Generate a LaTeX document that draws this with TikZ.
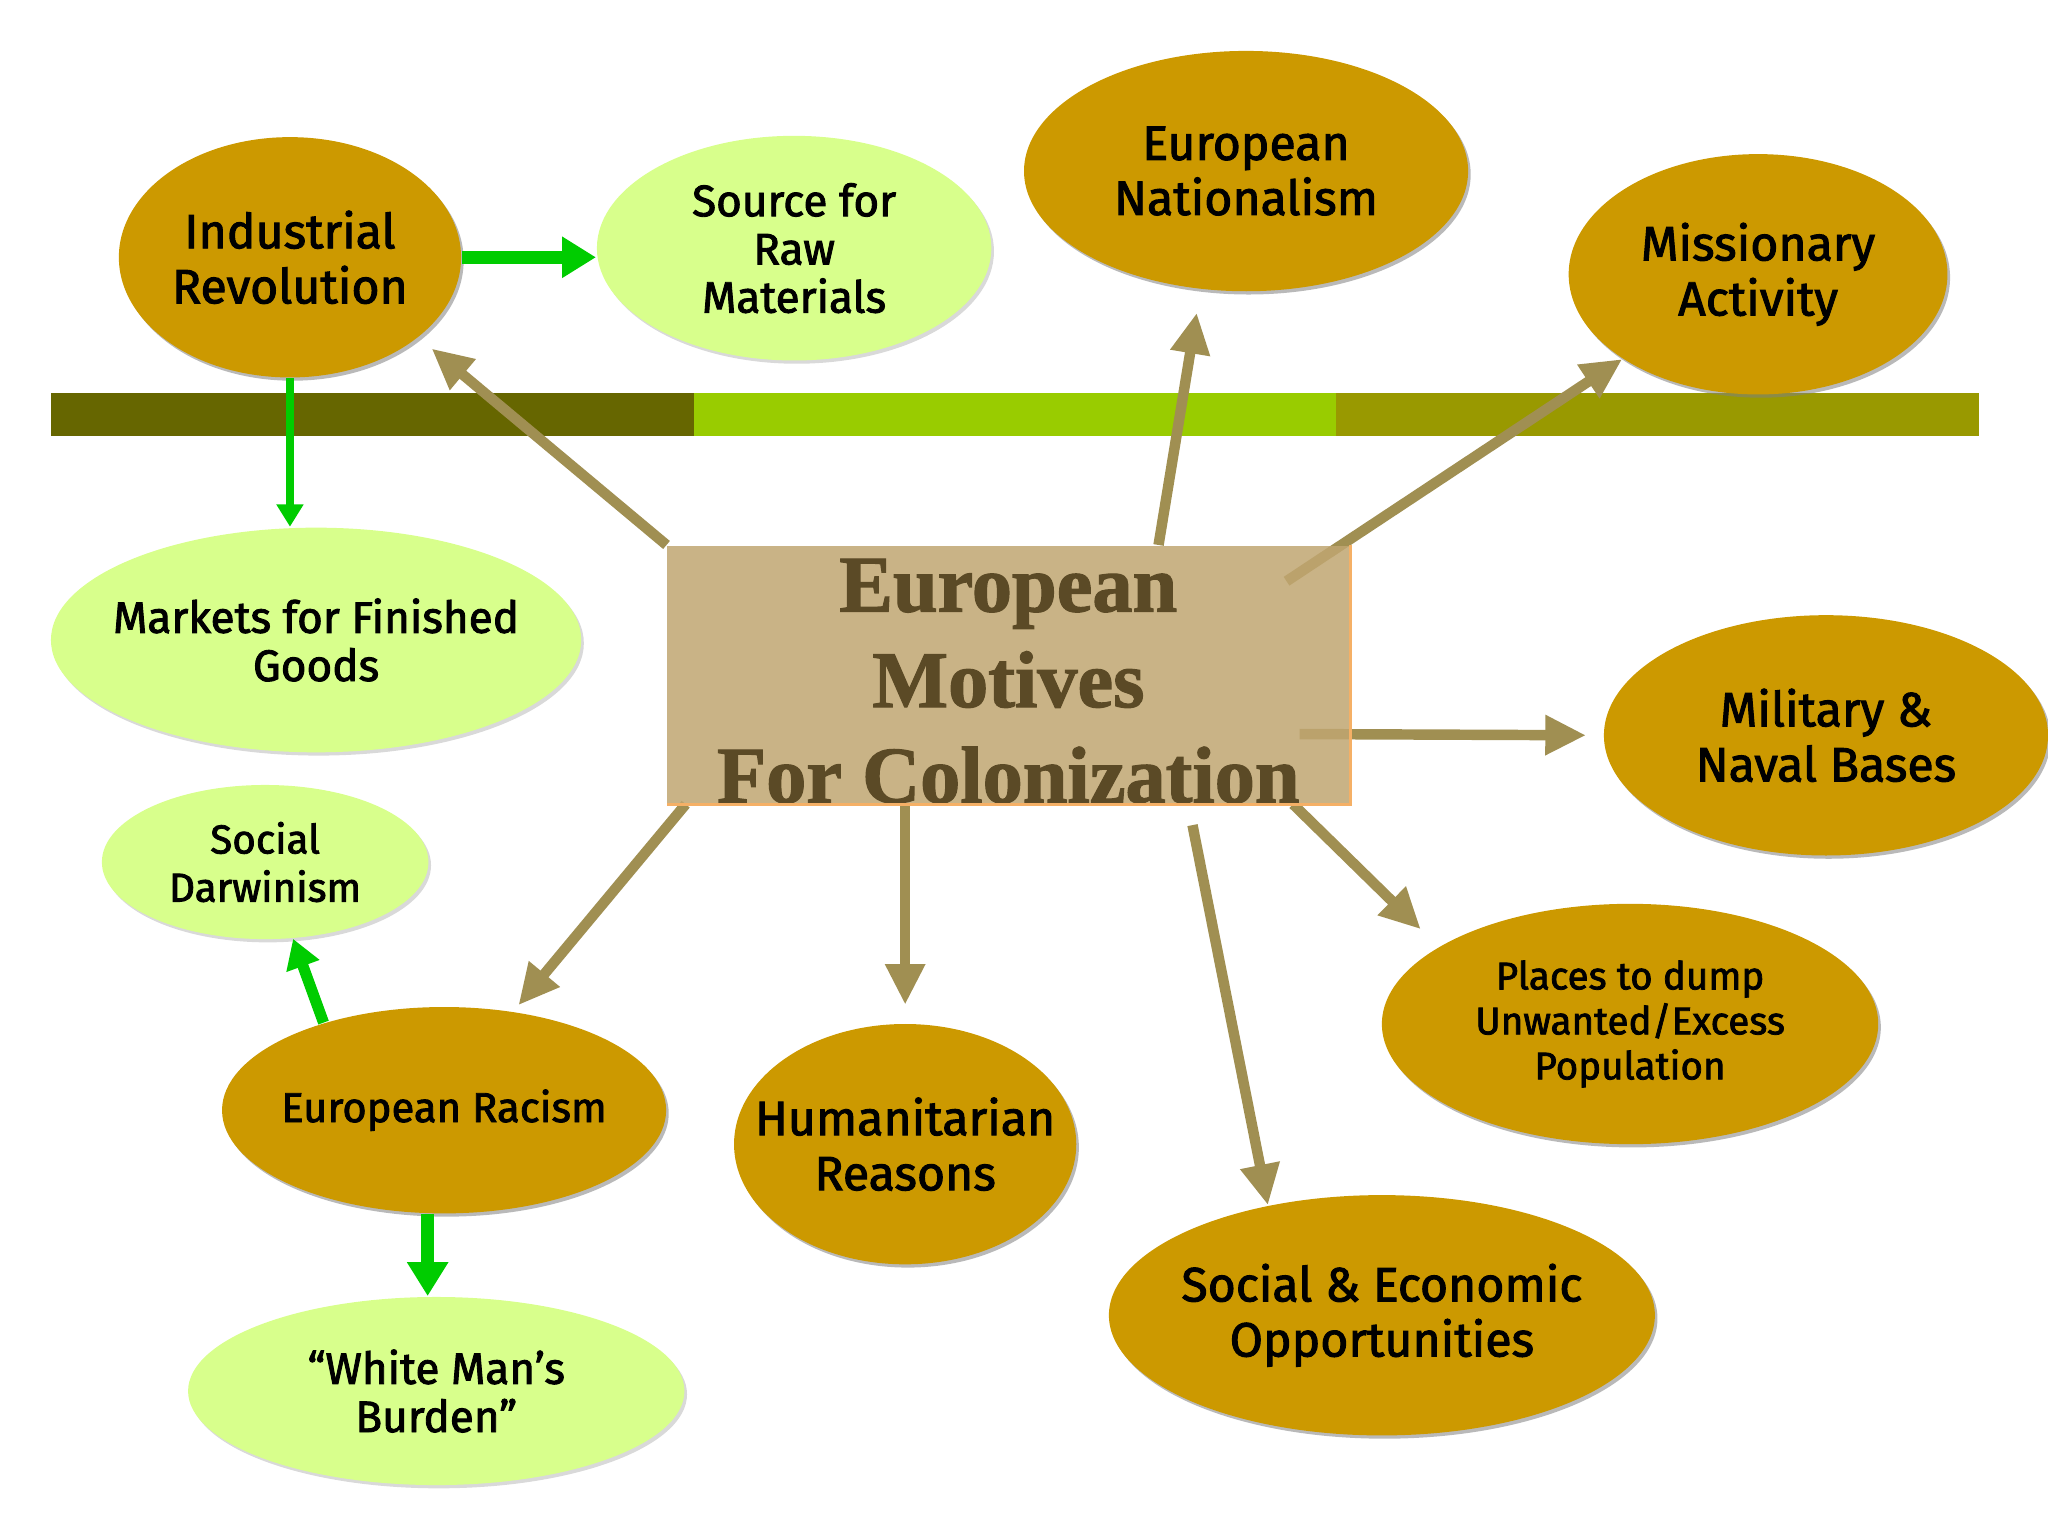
\documentclass[tikz,border=0pt]{standalone}
\usepackage{fontspec}
\setmainfont{Fira Sans}[FakeBold=2]
\newfontfamily\titlefont{Liberation Serif}[FakeBold=1.5]
\usetikzlibrary{shapes.geometric,arrows.meta,backgrounds,shadows}
\definecolor{ovalgold}{HTML}{CC9900}
\definecolor{ovallime}{HTML}{D8FF8C}
\definecolor{khaki}{HTML}{A08F52}
\definecolor{arrowgreen}{HTML}{00CC00}
\definecolor{titlebrown}{HTML}{5B4A26}
\definecolor{boxtan}{HTML}{C0A671}
\definecolor{boxedge}{HTML}{F5B066}
\definecolor{bardark}{HTML}{666600}
\definecolor{barlight}{HTML}{99CC00}
\definecolor{barmid}{HTML}{999900}
\tikzset{node distance=2cm, auto,
  motive/.style={ellipse, fill=ovalgold, inner xsep=-0.4cm, inner ysep=-0.3cm, align=center,
    drop shadow={shadow xshift=0.02cm, shadow yshift=-0.025cm, opacity=0.55}},
  effect/.style={ellipse, fill=ovallime, inner xsep=-0.4cm, inner ysep=-0.3cm, align=center,
    drop shadow={shadow xshift=0.02cm, shadow yshift=-0.025cm, opacity=0.3}},
  bigtext/.style={font=\fontsize{10.5}{12}\selectfont},
  midtext/.style={font=\fontsize{9.6}{10.5}\selectfont},
  smalltext/.style={font=\fontsize{8.4}{9.8}\selectfont},
  push/.style={draw=khaki, line width=0.08cm, -{Triangle[width=0pt 3.6, length=0pt 3.9]}},
  leads/.style={draw=arrowgreen, line width=#1, -{Triangle[width=0pt 3, length=0pt 2.6]}}
}
\begin{document}
\begin{tikzpicture}
  \useasboundingbox (0,0) rectangle (15.68,-11.76);

  % the bar across the slide
  \begin{scope}[on background layer]
    \foreach \c [count=\i from 0] in {bardark,barlight,barmid}
      \fill[\c] (0.39+4.92*\i,-3.01) rectangle ++(4.92,-0.33);
  \end{scope}

  \node (box) at (7.72,-5.165) [fill=boxtan, fill opacity=0.85, text opacity=1,
    minimum width=5.22cm, minimum height=1.95cm, inner sep=0pt, align=center,
    text=titlebrown, font=\titlefont\bfseries\fontsize{17.5}{20.8}\selectfont]
    {\raisebox{0pt}[\dimexpr\height+0.1cm]{European}\\Motives\\For Colonization};
  \draw[boxedge, line width=0.6pt] (box.north east) -- (box.south east) -- (box.south west);

  \node (ir) [node distance=5.5cm, left of=box, yshift=3.195cm, motive, bigtext,
    minimum width=2.62cm, minimum height=1.84cm] {Industrial\\Revolution};
  \node (src) [node distance=3.265cm, above of=box, xshift=-1.64cm, effect, midtext,
    minimum width=3.02cm, minimum height=1.72cm] {Source for\\Raw\\Materials};
  \node (en) [node distance=3.855cm, above of=box, xshift=1.82cm, motive, bigtext,
    minimum width=3.4cm, minimum height=1.84cm] {European\\Nationalism};
  \node (ma) [node distance=5.74cm, right of=box, yshift=3.065cm, motive, bigtext,
    minimum width=2.9cm, minimum height=1.84cm] {Missionary\\Activity};
  \node (mk) [node distance=5.3cm, left of=box, yshift=0.265cm, effect, midtext,
    minimum width=4.06cm, minimum height=1.72cm] {Markets for Finished\\Goods};
  \node (mn) [node distance=6.26cm, right of=box, yshift=-0.465cm, motive, bigtext,
    minimum width=3.4cm, minimum height=1.84cm] {Military \&\\Naval Bases};
  \node (sd) [node distance=5.69cm, left of=box, yshift=-1.435cm, effect,
    font=\fontsize{8.8}{10.5}\selectfont,
    minimum width=2.5cm, minimum height=1.18cm] {Social\\Darwinism};
  \node (er) [node distance=4.32cm, left of=box, yshift=-3.335cm, motive,
    font=\fontsize{9.1}{10.5}\selectfont,
    minimum width=3.4cm, minimum height=1.58cm] {European Racism};
  \node (hr) [node distance=3.595cm, below of=box, xshift=-0.79cm, motive, bigtext,
    minimum width=2.62cm, minimum height=1.84cm] {Humanitarian\\Reasons};
  \node (pd) [node distance=4.76cm, right of=box, yshift=-2.675cm, motive, smalltext,
    minimum width=3.8cm, minimum height=1.84cm] {Places to dump\\Unwanted/Excess\\Population};
  \node (se) [node distance=4.905cm, below of=box, xshift=2.86cm, motive, bigtext,
    minimum width=4.18cm, minimum height=1.84cm] {Social \& Economic\\Opportunities};
  \node (wmb) [node distance=5.485cm, below of=box, xshift=-4.38cm, effect, midtext,
    minimum width=3.8cm, minimum height=1.44cm] {“White Man’s\\Burden”};

  % motives, drawn under the title box
  \begin{scope}[on background layer]
    \draw[push, shorten >=0.13cm] (box.north west) -- (ir.-32);
    \draw[push, shorten >=0.18cm] ([xshift=1.15cm]box.north) -- (en.-111);
    \draw[push] ([shift={(2.13,0.715)}]box.center) -- (ma.-148);
    \draw[push, shorten >=0.13cm] ([shift={(2.23,-0.455)}]box.center) -- (mn.west);
    \draw[push, shorten >=0.19cm] ([xshift=2.18cm]box.south) -- (pd.158);
    \draw[push] ([shift={(1.41,-0.16)}]box.south) -- (se.136);
    \draw[push, shorten >=0.14cm] ([xshift=-0.79cm]box.south) -- (hr.north);
    \draw[push, shorten >=0.06cm] ([xshift=-2.47cm]box.south) -- (er.55);
  \end{scope}

  \draw[leads=0.1cm] (ir.east) -- (ir.east -| src.west);
  \draw[leads=0.066cm] (ir.south) -- (ir.south |- mk.north);
  \draw[leads=0.085cm] (er.144) -- (sd.-70);
  \draw[leads=0.1cm] (er.-99) -- (er.-99 |- wmb.north);
\end{tikzpicture}
\end{document}
